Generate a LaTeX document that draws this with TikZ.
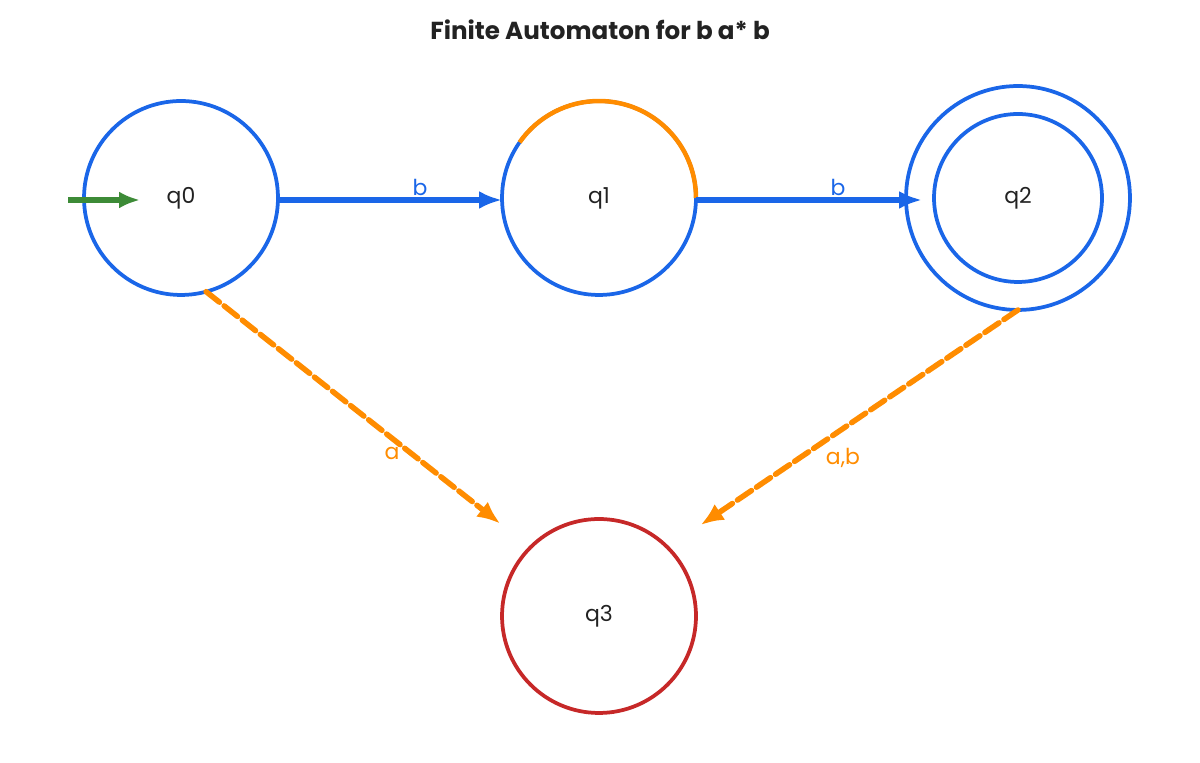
\documentclass[tikz,border=0pt]{standalone}
\usepackage{fontspec}
\setmainfont{Poppins}
\usetikzlibrary{arrows.meta}
\definecolor{xanh}{HTML}{1A66E8}
\definecolor{cam}{HTML}{FF8C00}
\definecolor{luc}{HTML}{3D8B37}
\definecolor{do}{HTML}{C62828}
\definecolor{chu}{HTML}{222222}
\begin{document}
\begin{tikzpicture}[x=0.02cm, y=0.02cm,
    nut/.style={circle, draw=xanh, line width=0.075cm, minimum size=3.88cm, inner sep=0pt, outer sep=0pt,
        text=chu, font=\fontsize{12.5}{14}\selectfont},
    nhan/.style={font=\fontsize{12.5}{14}\selectfont},
    mui/.style={line width=0.11cm, -{Latex[length=0.46cm, width=0.36cm]}},
    gach/.style={line width=0.11cm, cam, line cap=round, dash pattern=on 0.34cm off 0.12cm,
        -{Latex[length=0.46cm, width=0.38cm]}}]
    \useasboundingbox (0,0) rectangle (1200,763);
    % 1. Tiêu đề
    \node[font=\bfseries\fontsize{14}{17}\selectfont, text=chu] (tieude) at (600,733) {Finite Automaton for b a* b};

    % 2. Các trạng thái
    \node[nut] (q0) at (181,565) {q0};
    \node[nut] (q1) at (599,565) {q1};
    \node[nut, minimum size=4.48cm] (q2) at (1018,565) {};
    \node[nut, minimum size=3.36cm] (q2in) at (1018,565) {q2};
    \node[nut, draw=do] (q3) at (599,147) {q3};
    \draw[cam, line width=0.09cm] (q1.east) arc[start angle=0, end angle=145, radius=1.94cm];

    % 3. Mũi tên bắt đầu
    \coordinate (batdau) at (68,563);
    \draw[mui, luc, -{Latex[length=0.42cm, width=0.34cm]}] (batdau) -- ++(72,0);

    % 4. Các cung chuyển trạng thái
    \draw[mui, xanh] ([yshift=-0.04cm]q0.east) -- ([yshift=-0.04cm]q1.west);
    \draw[mui, xanh, shorten >=-0.32cm] ([yshift=-0.04cm]q1.east) -- ([yshift=-0.04cm]q2.west);
    \node[nhan, text=xanh] (lb1) at (420,576) {b};
    \node[nhan, text=xanh] (lb2) at (838,576) {b};

    \draw[gach, shorten >=0.77cm] (q0.-75) -- (q3.135);
    \draw[gach, shorten >=0.8cm] (q2.south) -- (q3.45);
    \node[nhan, text=cam] (la) at (392,310) {a};
    \node[nhan, text=cam] (lab) at (843,305) {a,b};
\end{tikzpicture}
\end{document}
